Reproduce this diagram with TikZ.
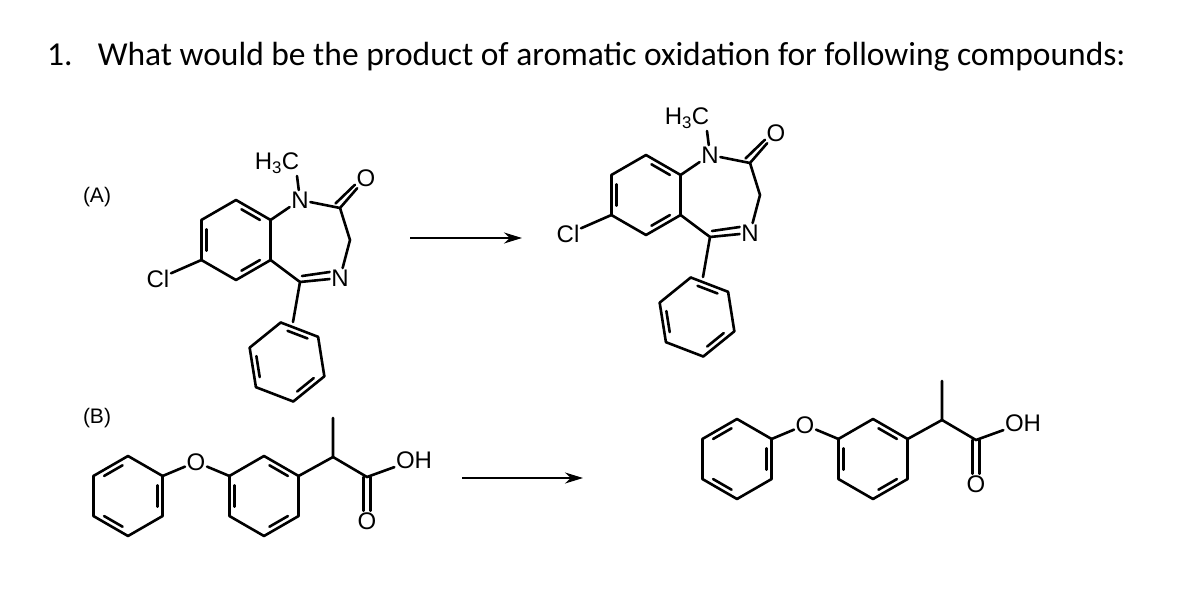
\documentclass[tikz,border=0pt]{standalone}
\usepackage{fontspec}
\setmainfont{Liberation Sans}
\newfontfamily\titlefont{Carlito}
\usetikzlibrary{calc,arrows.meta}
\tikzset{bond/.style={line width=2.6pt,line cap=round},
atom/.style={inner sep=1.5pt,font=\fontsize{24}{24}\selectfont},
lbl/.style={font=\fontsize{21}{21}\selectfont}}
\newcommand\hexring[5]{%
 \foreach \k in {0,...,5}{\draw[bond] ($(#1,#2)+({#4+60*\k}:#3)$) -- ($(#1,#2)+({#4+60*\k+60}:#3)$);}
 \foreach \k in {#5}{\draw[bond] ($(#1,#2)+({#4+60*\k+10}:{0.78*#3})$) -- ($(#1,#2)+({#4+60*\k+50}:{0.78*#3})$);}}
\newcommand\molA{%
 \hexring{236}{240}{40}{-90}{0,2,4}
 \node[atom] (N1) at (300,200) {N};
 \node[atom] (Me) at (277,163) {H\textsubscript{3}C};
 \node[atom] (O) at (366,178) {O};
 \node[atom] (N4) at (340,278) {N};
 \node[atom] (Cl) at (158,279) {Cl};
 \coordinate (C9a) at (270.6,220); \coordinate (C5a) at (270.6,260); \coordinate (C7) at (201.4,260);
 \coordinate (C2) at (340,208); \coordinate (C3) at (350,240); \coordinate (C5) at (300,282);
 \coordinate (Ci) at (293,322);
 \draw[bond] (N1) -- (297,176);
 \draw[bond] (C9a) -- (N1) -- (C2) -- (C3) -- (N4);
 \draw[bond] (C2) -- (O); \draw[bond] ($(C2)+(-4.5,-4.5)$) -- ($(O.south west)+(0,-3.5)$);
 \draw[bond] (C5) -- (N4); \draw[bond] ($(C5)+(2,-6)$) -- ($(N4.west)+(0,-6)$);
 \draw[bond] (C5a) -- (C5) -- (Ci);
 \draw[bond] (C7) -- (Cl);
 \hexring{287}{362}{40}{-99}{0,2,4}
}
\newcommand\molB{%
 \hexring{128}{496}{40}{-90}{1,3,5}
 \hexring{264}{496}{40}{-90}{0,2,4}
 \node[atom] (O) at (196,462) {O};
 \node[atom] (OH) at (414,460) {OH};
 \node[atom] (Od) at (367,521) {O};
 \coordinate (a) at (162.6,476); \coordinate (b) at (229.4,476); \coordinate (c) at (298.6,476);
 \coordinate (CH) at (333,457); \coordinate (Me) at (333,418); \coordinate (CC) at (367,477);
 \draw[bond] (a) -- (O) -- (b);
 \draw[bond] (c) -- (CH) -- (Me); \draw[bond] (CH) -- (CC) -- (OH);
 \draw[bond] ($(CC)+(-3.5,0)$) -- ($(Od.north)+(-3.5,0)$);
 \draw[bond] ($(CC)+(3.5,0)$) -- ($(Od.north)+(3.5,0)$);
}
\begin{document}
\begin{tikzpicture}[x=1pt,y=-1pt]
\useasboundingbox[fill=white] (0,0) rectangle (1196,604);
\node[anchor=west,inner sep=0,font=\titlefont\fontsize{33.5}{33.5}\selectfont] (title) at (47,57) {1.\hspace{0.75em}What would be the product of aromatic oxidation for following compounds:};
\node[lbl] (la) at (97,197) {(A)};
\node[lbl] (lb) at (97,418) {(B)};
\begin{scope}\molA\end{scope}
\begin{scope}[shift={(410,-45)}]\molA\end{scope}
\begin{scope}\molB\end{scope}
\begin{scope}[shift={(609,-37)}]\molB\end{scope}
\coordinate (a1) at (410,238); \coordinate (a2) at (522,238);
\coordinate (b1) at (462,478); \coordinate (b2) at (583,478);
\draw[line width=2pt,-{Stealth[length=18pt,width=11pt]}] (a1) -- (a2);
\draw[line width=2pt,-{Stealth[length=18pt,width=11pt]}] (b1) -- (b2);
\end{tikzpicture}
\end{document}
